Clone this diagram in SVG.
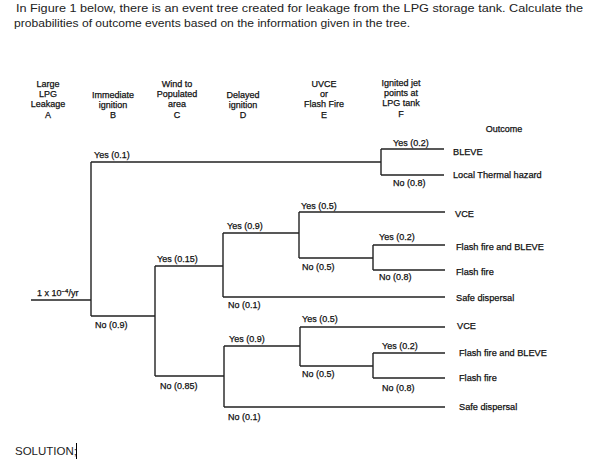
<svg xmlns="http://www.w3.org/2000/svg" width="599" height="474" viewBox="0 0 599 474">
<style>
.title{font-family:"Liberation Sans",Arial,sans-serif;font-size:11.5px;fill:#222}
.h{font-family:"Liberation Sans",Arial,sans-serif;font-size:9px;fill:#111;text-anchor:middle;stroke:#111;stroke-width:0.25}
.l{font-family:"Liberation Sans",Arial,sans-serif;font-size:9px;fill:#111;stroke:#111;stroke-width:0.25}
.o{font-family:"Liberation Sans",Arial,sans-serif;font-size:9.2px;fill:#111;stroke:#111;stroke-width:0.25}
.c{fill:none;stroke:#222;stroke-width:1.4}
</style>
<rect width="599" height="474" fill="#fff"/>
<g id="title">
<text class="title" x="16" y="12" textLength="567" lengthAdjust="spacingAndGlyphs">In Figure 1 below, there is an event tree created for leakage from the LPG storage tank. Calculate the</text>
<text class="title" x="14" y="27" textLength="396" lengthAdjust="spacingAndGlyphs">probabilities of outcome events based on the information given in the tree.</text>
</g>
<g id="headers">
<text class="h" x="48" y="87">Large</text><text class="h" x="48" y="97">LPG</text><text class="h" x="48" y="107">Leakage</text><text class="h" x="48" y="118">A</text>
<text class="h" x="113" y="98">Immediate</text><text class="h" x="113" y="108">ignition</text><text class="h" x="113" y="118">B</text>
<text class="h" x="177" y="87">Wind to</text><text class="h" x="177" y="97">Populated</text><text class="h" x="177" y="107">area</text><text class="h" x="177" y="118">C</text>
<text class="h" x="243" y="98">Delayed</text><text class="h" x="243" y="108">ignition</text><text class="h" x="243" y="118">D</text>
<text class="h" x="324" y="87">UVCE</text><text class="h" x="324" y="97">or</text><text class="h" x="324" y="107">Flash Fire</text><text class="h" x="324" y="118">E</text>
<text class="h" x="401" y="86">Ignited jet</text><text class="h" x="401" y="96">points at</text><text class="h" x="401" y="106">LPG tank</text><text class="h" x="401" y="117">F</text>
<text class="h" x="504" y="132">Outcome</text>
</g>
<g id="connectors">
<path class="c" d="M31,300 H91 M91,162 V316 M91,162 H381 M381,149 V175 M381,149 H444 M381,175 H444"/>
<path class="c" d="M91,316 H155 M155,266 V376 M155,266 H223 M223,233 V297 M223,233 H299 M299,212 V258 M299,212 H445 M299,258 H373 M373,245 V270 M373,245 H445 M373,270 H445 M223,297 H445"/>
<path class="c" d="M155,376 H224 M224,346 V407 M224,346 H300 M300,327 V366 M300,327 H445 M300,366 H373 M373,353 V378 M373,353 H445 M373,378 H445 M224,407 H445"/>
</g>
<g id="node-A"><text class="l" x="37" y="296">1 x 10<tspan font-size="6" dy="-3">−4</tspan><tspan dy="3">/yr</tspan></text></g>
<g id="node-B">
<text class="l" x="94" y="158">Yes (0.1)</text>
<text class="l" x="95" y="328">No (0.9)</text>
</g>
<g id="node-C">
<text class="l" x="157" y="262">Yes (0.15)</text>
<text class="l" x="160" y="389">No (0.85)</text>
</g>
<g id="node-D">
<text class="l" x="227" y="229">Yes (0.9)</text>
<text class="l" x="228" y="308">No (0.1)</text>
<text class="l" x="229" y="342">Yes (0.9)</text>
<text class="l" x="228" y="420">No (0.1)</text>
</g>
<g id="node-E">
<text class="l" x="301" y="209">Yes (0.5)</text>
<text class="l" x="302" y="270">No (0.5)</text>
<text class="l" x="302" y="322">Yes (0.5)</text>
<text class="l" x="302" y="377">No (0.5)</text>
</g>
<g id="node-F">
<text class="l" x="393" y="146">Yes (0.2)</text>
<text class="l" x="393" y="186">No (0.8)</text>
<text class="l" x="379" y="240">Yes (0.2)</text>
<text class="l" x="379" y="280">No (0.8)</text>
<text class="l" x="382" y="349">Yes (0.2)</text>
<text class="l" x="382" y="391">No (0.8)</text>
</g>
<g id="outcomes">
<text class="o" x="453" y="155">BLEVE</text>
<text class="o" x="453" y="178">Local Thermal hazard</text>
<text class="o" x="455" y="217">VCE</text>
<text class="o" x="456" y="250">Flash fire and BLEVE</text>
<text class="o" x="456" y="275">Flash fire</text>
<text class="o" x="456" y="301">Safe dispersal</text>
<text class="o" x="457" y="329">VCE</text>
<text class="o" x="459" y="356">Flash fire and BLEVE</text>
<text class="o" x="459" y="381">Flash fire</text>
<text class="o" x="459" y="410">Safe dispersal</text>
</g>
<g id="solution">
<text class="title" x="15" y="455">SOLUTION;</text>
<line x1="76.5" y1="443" x2="76.5" y2="459" stroke="#000" stroke-width="1"/>
</g>
</svg>
